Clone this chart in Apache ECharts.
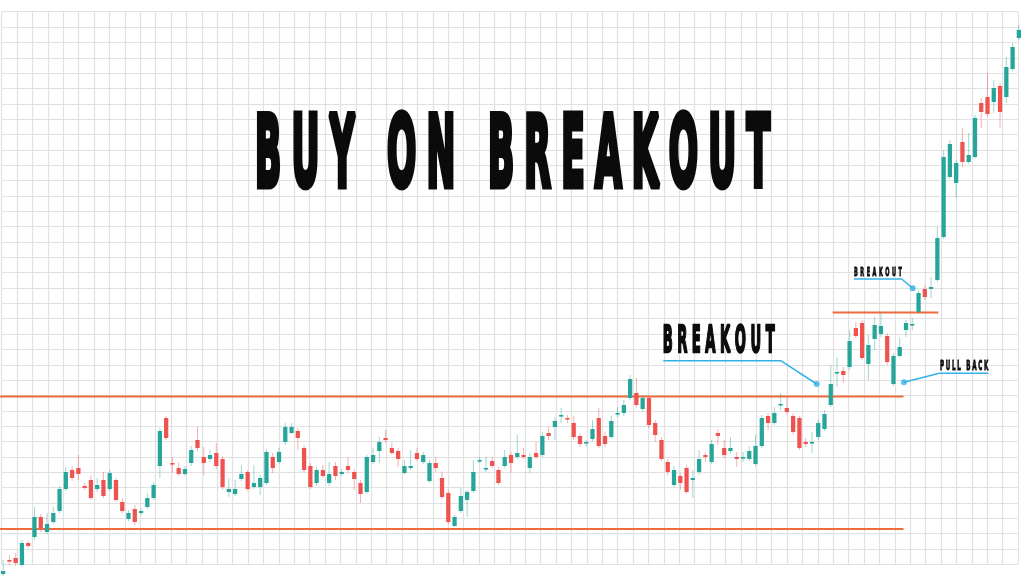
<!DOCTYPE html>
<html><head><meta charset="utf-8">
<script src="https://cdn.jsdelivr.net/npm/echarts@6/dist/echarts.min.js"></script>
<style>html,body{margin:0;padding:0;background:#fff}#c{width:1024px;height:576px}</style>
</head><body><div id="c"></div>
<script>
// candles: [open, close, low, high]
const candles = [
[2,5,0,16],[16,15,11,21],[18,13,10,23],[11,33,9,36],[33,30,28,35],[39,59,36,69],[59,48,44,62],[44,52,42,63],[54,63,52,69],[65,87,63,90],
[87,104,85,109],[106,98,95,110],[108,102,96,121],[90,88,86,93],[96,78,76,101],[87,91,84,98],[96,80,78,104],[87,103,85,106],[96,76,74,98],[74,65,63,78],
[57,63,55,66],[67,54,51,71],[63,65,61,68],[69,78,67,83],[78,91,76,94],[110,145,98,148],[158,138,136,160],[113,112,103,119],[108,102,100,114],[102,107,100,110],
[113,126,110,130],[136,128,125,149],[119,113,101,129],[117,121,114,126],[123,110,107,133],[117,89,86,120],[84,87,79,98],[82,87,80,96],[97,102,95,111],[104,87,85,106],
[89,93,87,111],[89,98,81,101],[93,124,91,127],[119,108,103,123],[114,124,112,128],[134,149,131,153],[143,149,142,153],[145,138,126,148],[128,106,104,131],[110,89,87,113],
[93,106,90,109],[106,100,98,111],[93,102,90,114],[110,100,96,114],[102,104,100,107],[110,106,103,119],[104,97,86,107],[93,82,73,96],[84,119,82,121],[114,121,112,128],
[125,134,113,139],[138,136,133,146],[128,123,121,134],[125,117,109,128],[103,110,101,116],[108,110,106,126],[123,117,115,128],[114,121,112,124],[95,113,93,116],[113,108,104,119],
[98,79,77,104],[83,54,52,86],[50,59,49,61],[65,80,63,88],[76,84,59,86],[85,104,83,116],[115,116,113,119],[107,108,104,119],[115,110,108,119],[106,93,91,109],
[110,119,108,126],[121,113,103,124],[119,123,117,141],[121,119,117,128],[108,119,103,123],[123,119,117,134],[121,140,119,144],[143,140,136,149],[149,155,136,159],[160,161,153,168],
[158,157,153,161],[153,139,136,160],[140,132,129,143],[133,134,129,136],[137,147,135,156],[158,130,128,168],[140,132,129,144],[139,155,137,160],[162,163,159,169],[163,171,160,176],
[178,197,176,201],[183,171,168,198],[167,178,164,181],[178,151,148,180],[153,141,134,156],[136,117,115,139],[114,104,101,117],[91,106,89,110],[100,93,86,103],[108,84,82,111],
[96,98,78,106],[104,117,101,126],[121,119,114,124],[114,132,112,136],[143,140,131,147],[128,121,118,136],[125,128,122,139],[119,117,109,124],[118,119,114,124],[117,125,115,130],
[112,130,110,141],[130,158,128,161],[160,153,146,163],[153,163,151,169],[171,172,166,183],[168,164,161,178],[160,144,141,163],[158,128,126,160],[134,132,129,138],[133,134,123,144],
[139,153,136,156],[147,162,145,166],[171,192,169,211],[203,204,189,219],[205,201,193,209],[209,235,206,246],[248,240,238,254],[253,218,216,256],[212,231,196,241],[237,251,226,259],
[242,250,239,263],[240,214,211,243],[192,220,190,223],[220,229,218,238],[246,253,239,256],[251,252,246,258],[264,283,262,286],[287,279,276,291],[287,289,278,299],[296,338,294,349],
[339,419,337,426],[399,432,397,436],[393,413,378,416],[434,414,409,448],[414,421,412,443],[419,458,417,461],[473,464,448,478],[479,462,460,503],[474,488,463,496],[490,464,448,493],
[479,509,473,519],[507,529,505,533],[538,546,536,551]
];
const supportLevel = 47;
const resistanceLevel = 179.5;
const breakoutLevel = 263.5;
const rangeEnd = 143.6;
const breakoutSpan = [132.3, 149.15];
const titleText = 'BUY ON BREAKOUT';
const annotations = [
  {text:'BREAKOUT', at:[105.19, 222.7], capH:30, width:112, sx:0.35, stroke:2.5, leader:[[105.29,215.3],[124.01,215.3],[129.75,192]]},
  {text:'BREAKOUT', at:[135.7, 299.3], capH:10.5, width:48, sx:0.38, stroke:1, leader:[[135.7,297],[143.3,297],[145.07,287.7]]},
  {text:'PULL BACK', at:[149.42, 206], capH:11.7, width:48.3, sx:0.38, stroke:1, leader:[[157.12,202.7],[149.31,202.7],[143.68,193.7]]}
];

const UP = '#26a69a', DOWN = '#ef5350';
const UPW = 'rgba(38,166,154,0.45)', DOWNW = 'rgba(239,83,80,0.45)';
const ORANGE = '#ef6a3c', BLUE = '#33b2e6';
const N = candles.length;
const data = candles.map((c,i)=>[i, c[0], c[1], c[2], c[3]]);

const chart = echarts.init(document.getElementById('c'), null, {renderer:'canvas'});
const series = [
  {type:'custom', xAxisIndex:0, yAxisIndex:0, z:5, data:data, encode:{x:0, y:[1,2,3,4]},
   renderItem:function(params, api){
     const i = api.value(0), o = api.value(1), c = api.value(2), l = api.value(3), h = api.value(4);
     const pO = api.coord([i,o]), pC = api.coord([i,c]), pL = api.coord([i,l]), pH = api.coord([i,h]);
     const bw = api.size([1,0])[0]*0.68;
     const up = c >= o;
     const top = Math.min(pO[1], pC[1]);
     const bh = Math.max(Math.abs(pO[1]-pC[1]), 1.6);
     return {type:'group', children:[
       {type:'line', shape:{x1:pL[0], y1:pL[1], x2:pH[0], y2:pH[1]}, style:{stroke: up?UPW:DOWNW, lineWidth:1}},
       {type:'rect', shape:{x:pO[0]-bw/2, y:top, width:bw, height:bh}, style:{fill: up?UP:DOWN}}
     ]};
   }},
  {type:'line', xAxisIndex:0, yAxisIndex:0, z:4, symbol:'none', data:[[-1,supportLevel],[rangeEnd,supportLevel]], lineStyle:{color:ORANGE, width:2}},
  {type:'line', xAxisIndex:0, yAxisIndex:0, z:4, symbol:'none', data:[[-1,resistanceLevel],[rangeEnd,resistanceLevel]], lineStyle:{color:ORANGE, width:2}},
  {type:'line', xAxisIndex:0, yAxisIndex:0, z:4, symbol:'none', data:[[breakoutSpan[0],breakoutLevel],[breakoutSpan[1],breakoutLevel]], lineStyle:{color:ORANGE, width:2}}
];
annotations.forEach(a=>{
  series.push({type:'line', xAxisIndex:0, yAxisIndex:0, z:6, symbol:'none', data:a.leader, lineStyle:{color:BLUE, width:1.5}});
  series.push({type:'scatter', xAxisIndex:0, yAxisIndex:0, z:7, symbol:'circle', symbolSize:6, data:[a.leader[a.leader.length-1]], itemStyle:{color:BLUE}});
});

chart.setOption({
  animation:false,
  backgroundColor:'#ffffff',
  grid:[
    {left:0, right:2, top:0, bottom:0},
    {left:1.7, top:11.7, width:1016.4, height:552.6}
  ],
  xAxis:[
    {type:'value', gridIndex:0, min:-0.5, max:N-0.5, show:false},
    {type:'value', gridIndex:1, min:0, max:66, interval:1, axisLine:{show:false}, axisTick:{show:false}, axisLabel:{show:false},
     splitLine:{show:true, lineStyle:{color:'#e1e1e1', width:1.2}}}
  ],
  yAxis:[
    {type:'value', gridIndex:0, min:0, max:576, show:false},
    {type:'value', gridIndex:1, min:0, max:36, interval:1, axisLine:{show:false}, axisTick:{show:false}, axisLabel:{show:false},
     splitLine:{show:true, lineStyle:{color:'#e1e1e1', width:1.2}}}
  ],
  series:series
});

const FAM = '"DejaVu Sans", sans-serif';
const meas = document.createElement('canvas').getContext('2d');
function textChildren(spec, left, baseline){
  const L = spec.stroke;
  const fs = (spec.capH - L)/0.73;
  const font = 'bold ' + fs.toFixed(2) + 'px ' + FAM;
  meas.font = font;
  const chars = spec.text.split('');
  const adv = chars.map(ch=>meas.measureText(ch).width);
  const total = adv.reduce((a,b)=>a+b,0);
  const track = (spec.width - spec.sx*total)/(chars.length-1);
  let x = left;
  const out = [];
  chars.forEach((ch,k)=>{
    if (ch !== ' ') out.push({type:'text', x:x, y:baseline - spec.capH/2 + 0.11*fs, scaleX:spec.sx, z:100,
      style:{text:ch, font:font, fill:'#0b0b0b', stroke:'#0b0b0b', lineWidth:L, lineJoin:'miter',
             textAlign:'left', align:'left', textVerticalAlign:'middle', verticalAlign:'middle'}});
    x += adv[k]*spec.sx + track;
  });
  return out;
}
let els = textChildren({text:titleText, capH:79, width:515, sx:0.35, stroke:7}, 255, 189);
annotations.forEach(a=>{
  const p = chart.convertToPixel({xAxisIndex:0, yAxisIndex:0}, a.at);
  els = els.concat(textChildren(a, p[0], p[1]));
});
chart.setOption({graphic:{elements:els}});
</script>
</body></html>
